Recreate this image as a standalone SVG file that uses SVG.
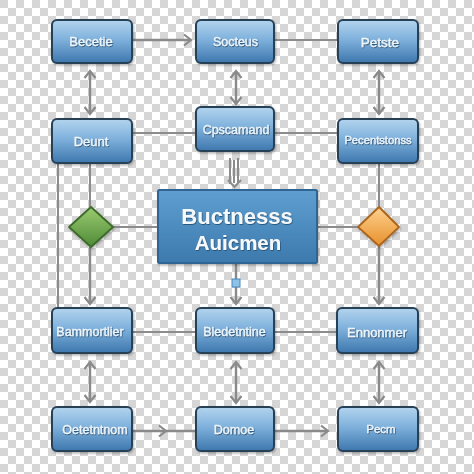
<svg xmlns="http://www.w3.org/2000/svg" width="474" height="474" viewBox="0 0 474 474">
<defs>
<pattern id="chk" width="16" height="16" patternUnits="userSpaceOnUse">
<rect width="16" height="16" fill="#ffffff"/>
<rect width="8" height="8" fill="#d6d6d6"/>
<rect x="8" y="8" width="8" height="8" fill="#d6d6d6"/>
</pattern>
<linearGradient id="gBox" x1="0" y1="0" x2="0" y2="1">
<stop offset="0" stop-color="#b3d4ee"/>
<stop offset="0.45" stop-color="#7fb1dc"/>
<stop offset="1" stop-color="#3d77ad"/>
</linearGradient>
<linearGradient id="gBig" x1="0" y1="0" x2="0" y2="1">
<stop offset="0" stop-color="#5f9fd0"/>
<stop offset="1" stop-color="#3c79ad"/>
</linearGradient>
<linearGradient id="gGreen" x1="0" y1="0" x2="0" y2="1">
<stop offset="0" stop-color="#9ccb72"/>
<stop offset="1" stop-color="#4d8a35"/>
</linearGradient>
<linearGradient id="gOrange" x1="0" y1="0" x2="0" y2="1">
<stop offset="0" stop-color="#fdd18e"/>
<stop offset="1" stop-color="#e8902c"/>
</linearGradient>
<filter id="ts" x="-10%" y="-30%" width="120%" height="160%">
<feDropShadow dx="0.6" dy="0.8" stdDeviation="0.6" flood-color="#1d3f5e" flood-opacity="0.9"/>
</filter>
<filter id="bs" x="-10%" y="-10%" width="125%" height="130%">
<feDropShadow dx="1" dy="1.5" stdDeviation="1" flood-color="#000" flood-opacity="0.3"/>
</filter>
<marker id="ch" markerUnits="userSpaceOnUse" markerWidth="12" markerHeight="14" refX="8" refY="6" orient="auto-start-reverse" viewBox="0 0 12 12">
<path d="M1,0.5 L8,6 L1,11.5" fill="none" stroke="#8a8a8a" stroke-width="2.2"/>
</marker>
</defs>
<style>
.box{fill:url(#gBox);stroke:#283f57;stroke-width:2;filter:url(#bs)}
.lbl{font-family:"Liberation Sans",Arial,sans-serif;font-size:12.5px;fill:#eaf5fd;stroke:#eaf5fd;stroke-width:0.35;text-anchor:middle;filter:url(#ts)}
.big{font-family:"Liberation Sans",Arial,sans-serif;font-size:22px;font-weight:bold;fill:#f4f9fd;text-anchor:middle;filter:url(#ts)}
.ln{stroke:#8c8c8c;stroke-width:2;fill:none}
.ar{stroke:#8a8a8a;stroke-width:2.4;fill:none}
</style>
<rect width="474" height="474" fill="url(#chk)"/>
<g id="connectors">
<path class="ar" d="M132,40 L191,40" marker-end="url(#ch)"/>
<path class="ln" d="M274,40 L338,40"/>
<path class="ar" d="M90,71 L90,114" marker-start="url(#ch)" marker-end="url(#ch)"/>
<path class="ar" d="M236,71 L236,104" marker-start="url(#ch)" marker-end="url(#ch)"/>
<path class="ar" d="M379,71 L379,114" marker-start="url(#ch)" marker-end="url(#ch)"/>
<path class="ln" d="M132,133 L196,133"/>
<path class="ln" d="M274,133 L338,133"/>
<path class="ln" stroke-width="1.5" d="M230,158 L230,184 M234,160 L234,183 M238,158 L238,184"/>
<path class="ln" d="M228,180 L234.5,187 L241,180"/>
<path class="ln" d="M58,163 L58,308"/>
<path class="ln" d="M90,163 L90,207"/>
<path class="ar" d="M90,247 L90,304" marker-end="url(#ch)"/>
<path class="ln" d="M113,227 L158,227"/>
<path class="ln" d="M317,227 L358,227"/>
<path class="ln" d="M379,163 L379,207"/>
<path class="ar" d="M379,246 L379,304" marker-end="url(#ch)"/>
<path class="ar" d="M236,263 L236,304" marker-end="url(#ch)"/>
<path class="ln" d="M132,332 L196,332"/>
<path class="ln" d="M274,332 L337,332"/>
<path class="ar" d="M90,362 L90,402" marker-start="url(#ch)" marker-end="url(#ch)"/>
<path class="ar" d="M236,362 L236,403" marker-start="url(#ch)" marker-end="url(#ch)"/>
<path class="ar" d="M379,362 L379,403" marker-start="url(#ch)" marker-end="url(#ch)"/>
<path class="ar" d="M132,431 L166,431 L196,431" marker-mid="url(#ch)"/>
<path class="ar" d="M274,431 L328,431" marker-end="url(#ch)"/>
<rect x="232" y="279" width="8" height="8" fill="#8ec3e8" stroke="#4a87bd" stroke-width="1"/>
</g>
<g id="n-becetie"><rect class="box" x="52" y="20" width="80" height="43" rx="5"/><text class="lbl" x="91" y="46" style="font-size:13px">Becetie</text></g>
<g id="n-socteus"><rect class="box" x="196" y="20" width="78" height="43" rx="5"/><text class="lbl" x="235.5" y="46">Socteus</text></g>
<g id="n-petste"><rect class="box" x="338" y="20" width="80" height="43" rx="5"/><text class="lbl" x="380" y="47" style="font-size:13.5px">Petste</text></g>
<g id="n-deunt"><rect class="box" x="52" y="119" width="80" height="44" rx="5"/><text class="lbl" x="91" y="146" style="font-size:13px">Deunt</text></g>
<g id="n-cpscamand"><rect class="box" x="196" y="107" width="78" height="44" rx="5"/><text class="lbl" x="236" y="134" style="font-size:12.5px">Cpscamand</text></g>
<g id="n-pecentstonss"><rect class="box" x="338" y="119" width="80" height="44" rx="5"/><text class="lbl" x="378" y="144" style="font-size:11.2px">Pecentstonss</text></g>
<g id="n-business"><rect x="158" y="190" width="159" height="73" rx="1.5" fill="url(#gBig)" stroke="#2d6595" stroke-width="2" style="filter:url(#bs)"/><text class="big" x="237" y="224">Buctnesss</text><text class="big" x="238" y="250" style="font-size:20.5px">Auicmen</text></g>
<g id="n-green"><path d="M91,207 L113,227 L91,247 L69,227 Z" fill="url(#gGreen)" stroke="#3c6a29" stroke-width="1.8" stroke-linejoin="round" style="filter:url(#bs)"/></g>
<g id="n-orange"><path d="M379,207 L399,227 L379,246 L358,227 Z" fill="url(#gOrange)" stroke="#a9651f" stroke-width="1.8" stroke-linejoin="round" style="filter:url(#bs)"/></g>
<g id="n-bammortlier"><rect class="box" x="52" y="308" width="80" height="45" rx="5"/><text class="lbl" x="90" y="336">Bammortlier</text></g>
<g id="n-bledetntine"><rect class="box" x="196" y="308" width="78" height="45" rx="5"/><text class="lbl" x="234.5" y="336">Bledetntine</text></g>
<g id="n-ennonmer"><rect class="box" x="337" y="308" width="81" height="45" rx="5"/><text class="lbl" x="377" y="337" style="font-size:13px">Ennonmer</text></g>
<g id="n-oetetntnom"><rect class="box" x="52" y="407" width="80" height="44" rx="5"/><text class="lbl" x="95" y="434">Oetetntnom</text></g>
<g id="n-domoe"><rect class="box" x="196" y="407" width="78" height="44" rx="5"/><text class="lbl" x="234" y="434">Domoe</text></g>
<g id="n-pecm"><rect class="box" x="338" y="407" width="80" height="44" rx="5"/><text class="lbl" x="381" y="433" style="font-size:11.5px">Pecm</text></g>
</svg>
